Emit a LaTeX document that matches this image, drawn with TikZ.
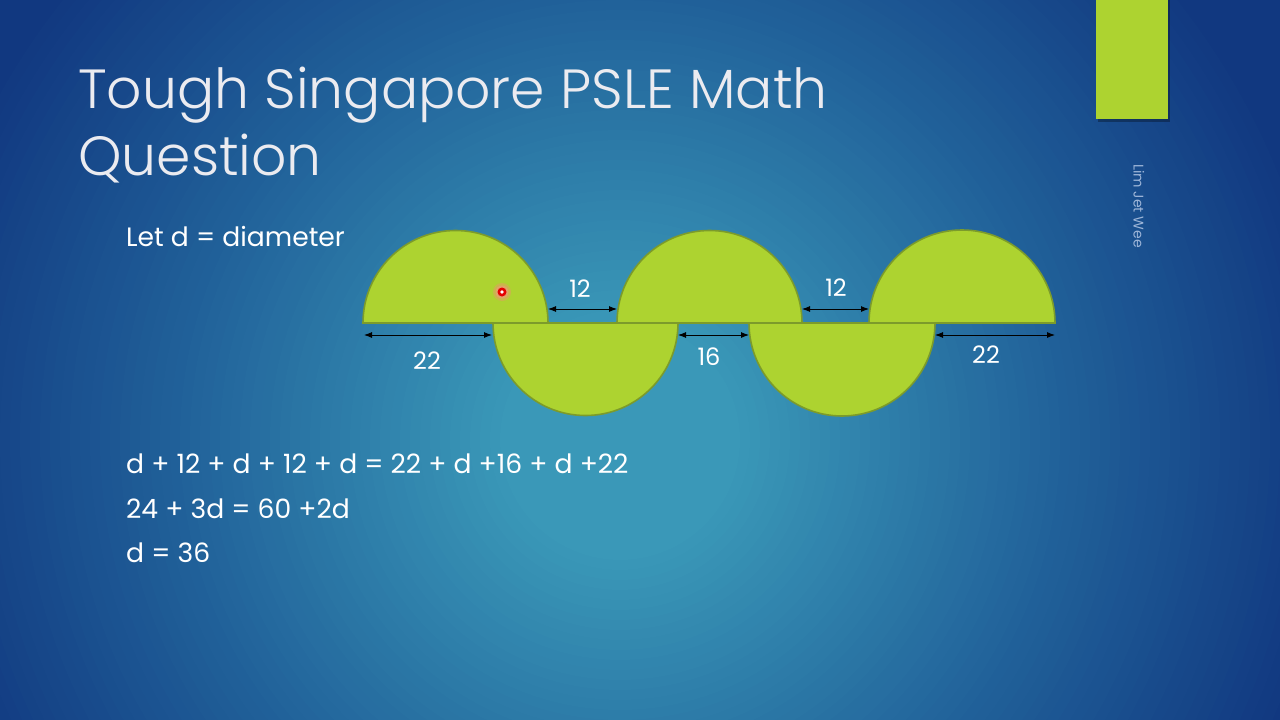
\documentclass[tikz,border=0pt]{standalone}
\usepackage{fontspec}
\setmainfont{Poppins}
\newfontfamily\titlefont{Poppins Light}
\usetikzlibrary{arrows.meta}
\definecolor{bgdark}{HTML}{113880}
\definecolor{bgmid}{HTML}{21629A}
\definecolor{bglight}{HTML}{3A98B8}
\definecolor{shapegreen}{HTML}{ADD330}
\definecolor{shapeedge}{HTML}{7C9B2B}
\definecolor{titlecol}{HTML}{EBEBF0}
\definecolor{signcol}{HTML}{9DB5D8}
\tikzset{
  semi/.style={fill=shapegreen, draw=shapeedge, line width=1.6pt},
  dimarrow/.style={{Latex[length=8pt,width=6pt]}-{Latex[length=8pt,width=6pt]}, line width=0.9pt, black},
  dimlabel/.style={text=white, font=\fontsize{24}{28}\selectfont, inner sep=0pt},
  bodytext/.style={text=white, font=\fontsize{26.6}{30}\selectfont, anchor=base west, inner sep=0pt},
  titletext/.style={text=titlecol, font=\titlefont\fontsize{55.2}{62}\selectfont, anchor=base west, inner sep=0pt},
}
\begin{document}
\begin{tikzpicture}[x=1pt,y=-1pt]
\useasboundingbox (0,0) rectangle (1280,720);
\begin{scope}
  \clip (0,0) rectangle (1280,720);
  \fill[bgdark] (0,0) rectangle (1280,720);
  \foreach \r in {800,790,...,0} {
    \ifnum\r>440
      \pgfmathsetmacro\pp{max(0,min(100,(720-\r)/2.8))}
      \fill[bgmid!\pp!bgdark] (620,440) circle (\r);
    \else
      \pgfmathsetmacro\pp{max(0,min(100,(440-\r)/3.2))}
      \fill[bglight!\pp!bgmid] (620,440) circle (\r);
    \fi
  }
\end{scope}

% accent bar
\fill[black, opacity=0.3] (1098,0) rectangle (1170,122);
\fill[shapegreen] (1096,0) rectangle (1168,119);
\node[rotate=-90, text=signcol, font=\fontsize{14}{16}\selectfont, inner sep=0pt] (sig) at (1139,206) {Lim Jet Wee};

% title
\node[titletext] (title1) at (78,108) {Tough Singapore PSLE Math};
\node[titletext] (title2) at (78,175) {Question};

% body
\node[bodytext] (let) at (126,246) {Let d = diameter};
\node[bodytext] (eq1) at (126,473) {d + 12 + d + 12 + d = 22 + d +16 + d +22};
\node[bodytext] (eq2) at (126,518) {24 + 3d = 60 +2d};
\node[bodytext] (eq3) at (126,562) {d = 36};

% semicircles
\coordinate (t1) at (363,323);
\coordinate (t2) at (617,323);
\coordinate (t3) at (869,323);
\coordinate (b1) at (493,323);
\coordinate (b2) at (749,323);
\path[semi] (t1) arc[start angle=180, end angle=360, radius=92.5] -- cycle;
\path[semi] (t2) arc[start angle=180, end angle=360, radius=92.5] -- cycle;
\path[semi] (t3) arc[start angle=180, end angle=360, radius=93] -- cycle;
\path[semi] (b1) arc[start angle=180, end angle=0, radius=92.5] -- cycle;
\path[semi] (b2) arc[start angle=180, end angle=0, radius=93] -- cycle;

% pointer dot
\fill[red!50!white, opacity=0.35] (502,292) circle (9);
\fill[red!45!white, opacity=0.45] (502,292) circle (6.5);
\fill[red!90!black] (502,292) circle (4.5);
\fill[white] (502,292) circle (1.8);

% dimension arrows
\coordinate (a1s) at (364,335); \coordinate (a1e) at (492,335);
\coordinate (a2s) at (548,309); \coordinate (a2e) at (617,309);
\coordinate (a3s) at (678,335); \coordinate (a3e) at (749,335);
\coordinate (a4s) at (802,309); \coordinate (a4e) at (869,309);
\coordinate (a5s) at (935,335); \coordinate (a5e) at (1055,335);
\draw[dimarrow] (a1s) -- (a1e);
\draw[dimarrow] (a2s) -- (a2e);
\draw[dimarrow] (a3s) -- (a3e);
\draw[dimarrow] (a4s) -- (a4e);
\draw[dimarrow] (a5s) -- (a5e);

\node[dimlabel] (l1) at (427,361) {22};
\node[dimlabel] (l2) at (580,289) {12};
\node[dimlabel] (l3) at (709,357) {16};
\node[dimlabel] (l4) at (836,288) {12};
\node[dimlabel] (l5) at (986,355) {22};
\end{tikzpicture}
\end{document}
